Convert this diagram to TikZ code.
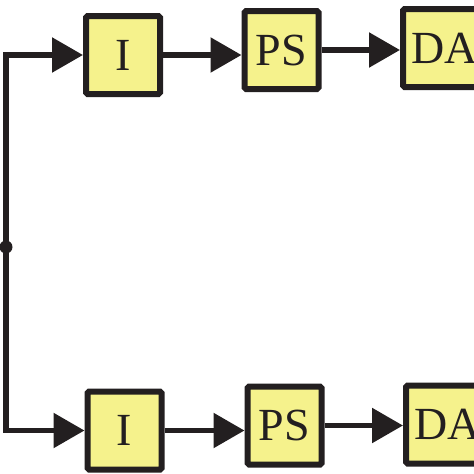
\documentclass[tikz,border=0pt]{standalone}
\usepackage{fontspec}
\setmainfont{Liberation Serif}
\usetikzlibrary{arrows.meta}
\definecolor{boxfill}{RGB}{245,242,140}
\definecolor{ink}{RGB}{35,31,32}
\begin{document}
\begin{tikzpicture}[x=1pt,y=1pt,
  box/.style={draw=ink, line width=6pt, fill=boxfill, rounded corners=1.5pt,
    minimum width=74pt, minimum height=78pt, inner sep=0pt, text=ink,
    font=\fontsize{46}{46}\selectfont},
  arr/.style={draw=ink, line width=5.5pt, -{Triangle[length=31pt,width=34pt]}}]
\useasboundingbox (0,0) rectangle (474,-474);
\clip (0,0) rectangle (474,-474);
% top row
\node[box] (I1) at (123,-55) {I};
\node[box] (PS1) at (281.5,-50) {PS};
\node[box, anchor=west, text width=130pt, inner xsep=8pt, align=left] (DA1) at (400,-48) {DA};
% bottom row
\node[box] (I2) at (124.5,-430.5) {I};
\node[box] (PS2) at (284.5,-425.5) {PS};
\node[box, anchor=west, text width=130pt, inner xsep=8pt, align=left] (DA2) at (403,-424.5) {DA};
% split point
\coordinate (split) at (6,-247);
\fill[ink] (split) circle (6.5pt);
\draw[arr] (split) |- (I1.west);
\draw[arr] (split) |- (I2.west);
\draw[arr] (I1.east) -- (I1.east -| PS1.west);
\draw[arr] (PS1.east) -- (PS1.east -| DA1.west);
\draw[arr] (I2.east) -- (I2.east -| PS2.west);
\draw[arr] (PS2.east) -- (PS2.east -| DA2.west);
\end{tikzpicture}
\end{document}
